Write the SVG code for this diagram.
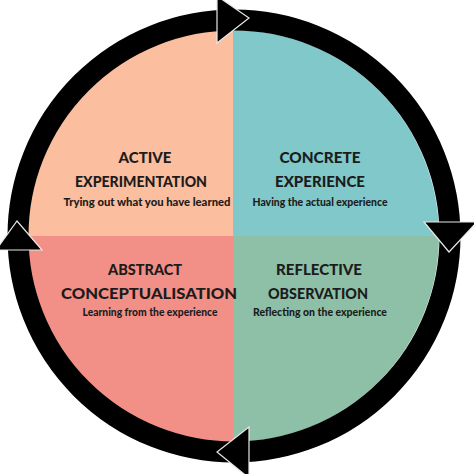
<svg xmlns="http://www.w3.org/2000/svg" width="474" height="474" viewBox="0 0 474 474">
<style>
.h{font-family:Lato,"Liberation Sans",sans-serif;font-weight:900;font-size:15px;fill:#1c1c1c;text-anchor:middle}
.s{font-family:Lato,"Liberation Sans",sans-serif;font-weight:900;font-size:10.5px;fill:#1c1c1c;text-anchor:middle}
.arr{fill:#000;stroke:#e8e8e8;stroke-width:1.2;stroke-linejoin:miter}
</style>
<rect width="474" height="474" fill="#fff"/>
<defs><clipPath id="c"><circle cx="233" cy="236" r="206"/></clipPath></defs>
<g clip-path="url(#c)">
<g id="q-active"><rect x="0" y="0" width="233" height="236" fill="#FBBE9E"/></g>
<g id="q-concrete"><rect x="233" y="0" width="241" height="236" fill="#80C8C9"/></g>
<g id="q-abstract"><rect x="0" y="236" width="233" height="238" fill="#F29087"/></g>
<g id="q-reflective"><rect x="233" y="236" width="241" height="238" fill="#8EC0A7"/></g>
</g>
<g id="connectors">
<circle cx="234" cy="236" r="216" fill="none" stroke="#000" stroke-width="21"/>
<polygon class="arr" points="217,-4 217,43 249,18"/>
<polygon class="arr" points="424,222 477,222 449,252"/>
<polygon class="arr" points="249,427 249,478 217,452"/>
<polygon class="arr" points="-4,250 42,250 17,221"/>
</g>
<g id="t-active">
<text class="h" x="145" y="163">ACTIVE</text>
<text class="h" x="141" y="187" textLength="132" lengthAdjust="spacingAndGlyphs">EXPERIMENTATION</text>
<text class="s" x="147" y="206" textLength="167" lengthAdjust="spacingAndGlyphs">Trying out what you have learned</text>
</g>
<g id="t-concrete">
<text class="h" x="320" y="163" textLength="81" lengthAdjust="spacingAndGlyphs">CONCRETE</text>
<text class="h" x="320" y="187" textLength="90" lengthAdjust="spacingAndGlyphs">EXPERIENCE</text>
<text class="s" x="320" y="206" textLength="135" lengthAdjust="spacingAndGlyphs">Having the actual experience</text>
</g>
<g id="t-abstract">
<text class="h" x="145" y="275" textLength="74" lengthAdjust="spacingAndGlyphs">ABSTRACT</text>
<text class="h" x="149" y="299" textLength="176" lengthAdjust="spacingAndGlyphs">CONCEPTUALISATION</text>
<text class="s" x="150" y="316" textLength="135" lengthAdjust="spacingAndGlyphs">Learning from the experience</text>
</g>
<g id="t-reflective">
<text class="h" x="319" y="275" textLength="86" lengthAdjust="spacingAndGlyphs">REFLECTIVE</text>
<text class="h" x="318" y="299" textLength="100" lengthAdjust="spacingAndGlyphs">OBSERVATION</text>
<text class="s" x="320" y="316" textLength="134" lengthAdjust="spacingAndGlyphs">Reflecting on the experience</text>
</g>
</svg>
